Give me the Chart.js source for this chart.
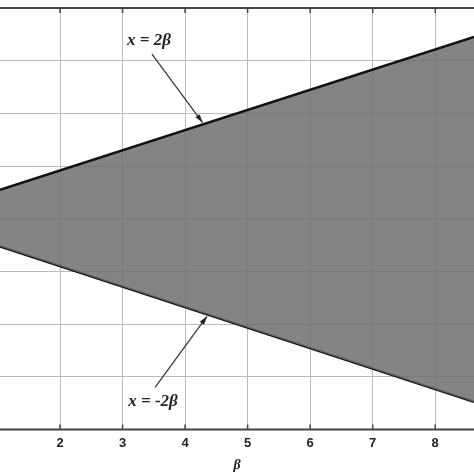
<!DOCTYPE html>
<html><head>
<script src="https://cdn.jsdelivr.net/npm/chart.js@4"></script>
<style>body{margin:0;background:#fff}#wrap{width:474px;height:474px}</style>
</head><body><div id="wrap"><canvas id="c"></canvas></div>
<script>
// boundary of the scatter cloud
const betaVals  = [1.04, 8.62];
const upperVals = [2.2, 13.8];
const lowerVals = [-2.1, -13.9];
const xTicks = [2, 3, 4, 5, 6, 7, 8];

const upper = betaVals.map((b, i) => ({x: b, y: upperVals[i]}));
const lower = betaVals.map((b, i) => ({x: b, y: lowerVals[i]}));

const notes = {
    id: 'notes',
    afterDraw(chart) {
        const c = chart.ctx, xs = chart.scales.x, ys = chart.scales.y;
        const arrow = (x1, y1, x2, y2) => {
            c.beginPath(); c.moveTo(x1, y1); c.lineTo(x2, y2); c.stroke();
            const a = Math.atan2(y2 - y1, x2 - x1);
            c.beginPath(); c.moveTo(x2, y2);
            c.lineTo(x2 - 9 * Math.cos(a - 0.3), y2 - 9 * Math.sin(a - 0.3));
            c.lineTo(x2 - 9 * Math.cos(a + 0.3), y2 - 9 * Math.sin(a + 0.3));
            c.closePath(); c.fill();
        };
        c.save();
        c.fillStyle = '#222'; c.strokeStyle = '#333'; c.lineWidth = 1.2;
        c.font = 'italic bold 17px "Liberation Serif"';
        c.textBaseline = 'middle';
        c.fillText('x = 2β', xs.getPixelForValue(3.07), ys.getPixelForValue(13.5));
        c.fillText('x = -2β', xs.getPixelForValue(3.09), ys.getPixelForValue(-13.9));
        arrow(xs.getPixelForValue(3.47), ys.getPixelForValue(12.5), xs.getPixelForValue(4.28), ys.getPixelForValue(7.3));
        arrow(xs.getPixelForValue(3.52), ys.getPixelForValue(-12.8), xs.getPixelForValue(4.35), ys.getPixelForValue(-7.4));
        const a = chart.chartArea;
        c.strokeStyle = '#444'; c.lineWidth = 2;
        c.beginPath(); c.moveTo(a.left, a.top); c.lineTo(a.right, a.top);
        c.moveTo(a.left, a.bottom); c.lineTo(a.right, a.bottom); c.stroke();
        c.lineWidth = 1.5;
        xTicks.forEach(t => {
            const px = xs.getPixelForValue(t);
            c.beginPath(); c.moveTo(px, a.top); c.lineTo(px, a.top + 5);
            c.moveTo(px, a.bottom); c.lineTo(px, a.bottom - 5); c.stroke();
        });
        c.restore();
    }
};

new Chart(document.getElementById('c'), {
    type: 'scatter',
    data: {
        datasets: [
            { data: upper, showLine: true, borderColor: '#111', borderWidth: 2.5, pointRadius: 0,
              fill: 1, backgroundColor: 'rgba(110,110,110,0.85)' },
            { data: lower, showLine: true, borderColor: '#111', borderWidth: 2.5, pointRadius: 0 }
        ]
    },
    options: {
        responsive: true, maintainAspectRatio: false, animation: false,
        layout: { padding: { top: 8, left: 0, right: 0, bottom: 0 } },
        plugins: { legend: { display: false }, tooltip: { enabled: false } },
        scales: {
            x: {
                type: 'linear', min: 1.04, max: 8.62,
                afterBuildTicks: s => { s.ticks = xTicks.map(v => ({value: v})); },
                grid: { color: '#bbb', borderDash: [1, 2], drawTicks: false },
                border: { display: false },
                ticks: { color: '#222', padding: 6, font: { family: 'Liberation Sans', weight: 'bold', size: 13 } },
                title: { display: true, text: 'β', color: '#222', padding: 0,
                         font: { family: 'Liberation Serif', style: 'italic', weight: 'bold', size: 14 } }
            },
            y: {
                min: -16, max: 16,
                ticks: { stepSize: 4, display: false },
                grid: { color: '#bbb', borderDash: [1, 2], drawTicks: false },
                border: { display: false }
            }
        }
    },
    plugins: [notes]
});
</script></body></html>
